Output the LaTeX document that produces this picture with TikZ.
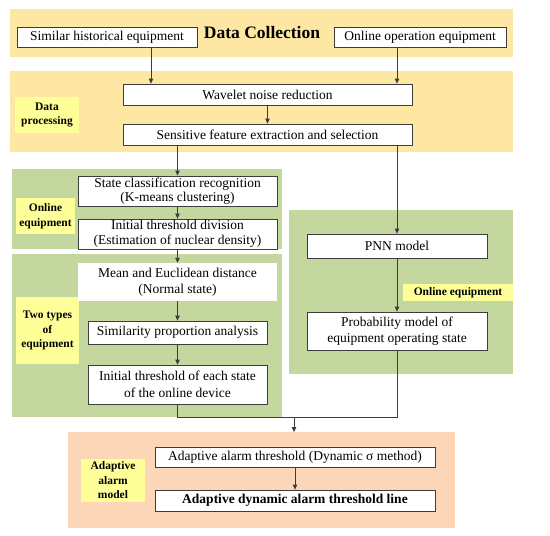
\documentclass[tikz,border=0pt]{standalone}
\usepackage{fontspec}
\setmainfont{Liberation Serif}
\usetikzlibrary{arrows.meta}
\definecolor{bandY}{RGB}{253,231,162}
\definecolor{bandG}{RGB}{196,215,158}
\definecolor{bandO}{RGB}{252,214,183}
\definecolor{labY}{RGB}{255,255,153}
\definecolor{lineC}{RGB}{60,60,60}
\tikzset{
  pbox/.style={draw=lineC, fill=white, line width=0.8pt, inner sep=0pt, align=center,
    font=\fontsize{13.5}{14.5}\selectfont, minimum width=#1},
  plain/.style={fill=white, inner sep=0pt, align=center, font=\fontsize{13.5}{16}\selectfont, minimum width=#1},
  lab/.style={fill=labY, inner sep=0pt, align=center, font=\fontsize{11.5}{14.5}\selectfont\bfseries},
  arr/.style={draw=lineC, line width=0.8pt, -{Triangle[length=5pt,width=4.5pt]}},
  ln/.style={draw=lineC, line width=0.8pt},
}
\begin{document}
\begin{tikzpicture}[x=1pt,y=-1pt]
\useasboundingbox (0,0) rectangle (550,536);
\fill[white] (0,0) rectangle (550,536);
% panels
\fill[bandY] (10,9) rectangle (513,57);
\fill[bandY] (10,71) rectangle (513,152);
\fill[bandG] (12,169) rectangle (282,249);
\fill[bandG] (12,254) rectangle (282,417);
\fill[bandG] (289,210) rectangle (513,374);
\fill[bandO] (68,432) rectangle (455,528);
% labels
\node[lab, minimum width=64pt, minimum height=36pt] (lproc) at (47,115) {Data\\processing};
\node[lab, minimum width=59pt, minimum height=36pt] (lon1) at (45.5,216) {Online\\equipment};
\node[lab, minimum width=63pt, minimum height=67pt] (ltwo) at (47.5,330.5) {Two types\\of\\equipment};
\node[lab, minimum width=110pt, minimum height=17pt] (lon2) at (458,292.5) {Online equipment};
\node[lab, minimum width=64pt, minimum height=43pt] (ladp) at (113,480.5) {Adaptive\\alarm\\model};
\node[inner sep=0pt, font=\fontsize{17.5}{19}\selectfont\bfseries] (title) at (262,33) {Data Collection};
% boxes
\node[pbox=180pt, minimum height=20pt] (sim) at (107,37) {Similar historical equipment};
\node[pbox=172pt, minimum height=20pt] (onl) at (420,37) {Online operation equipment};
\node[pbox=289pt, minimum height=21pt] (wav) at (267.5,94.5) {Wavelet noise reduction};
\node[pbox=289pt, minimum height=21pt] (sens) at (267.5,134.5) {Sensitive feature extraction and selection};
\node[pbox=199pt, minimum height=30pt] (state) at (177.5,191) {State classification recognition\\(K-means clustering)};
\node[pbox=199pt, minimum height=30pt] (idiv) at (177.5,234) {Initial threshold division\\(Estimation of nuclear density)};
\node[plain=199pt, minimum height=38pt] (mean) at (177.5,282) {Mean and Euclidean distance\\(Normal state)};
\node[pbox=179pt, minimum height=23pt] (simp) at (177.5,332.5) {Similarity proportion analysis};
\node[pbox=179pt, minimum height=39pt, font=\fontsize{13.5}{16.5}\selectfont] (ieach) at (177.5,384.5) {Initial threshold of each state\\of the online device};
\node[pbox=180pt, minimum height=24pt] (pnn) at (397,246) {PNN model};
\node[pbox=180pt, minimum height=38pt, font=\fontsize{13.5}{16.5}\selectfont] (prob) at (397,331) {Probability model of\\equipment operating state};
\node[pbox=280pt, minimum height=20pt] (adp) at (295,457) {Adaptive alarm threshold (Dynamic σ method)};
\node[pbox=280pt, minimum height=21pt, font=\fontsize{13.5}{14.5}\selectfont\bfseries] (fin) at (295,500.5) {Adaptive dynamic alarm threshold line};
% connectors
\coordinate (s1) at (151,47);
\coordinate (o1) at (397,47);
\draw[arr] (s1) -- (s1 |- wav.north);
\draw[arr] (o1) -- (o1 |- wav.north);
\draw[arr] (wav) -- (sens);
\draw[arr] (state.north |- sens.south) -- (state.north);
\draw[arr] (pnn.north |- sens.south) -- (pnn.north);
\draw[arr] (state) -- (idiv);
\draw[arr] (idiv) -- (mean);
\draw[arr] (mean) -- (simp);
\draw[arr] (simp) -- (ieach);
\draw[arr] (pnn) -- (prob);
\coordinate (jn) at (294,417);
\coordinate (otop) at (294,432);
\draw[ln] (ieach.south) -- (ieach.south |- jn) -- (prob.south |- jn) -- (prob.south);
\draw[arr] (jn) -- (otop);
\draw[arr] (adp) -- (fin);
\end{tikzpicture}
\end{document}
